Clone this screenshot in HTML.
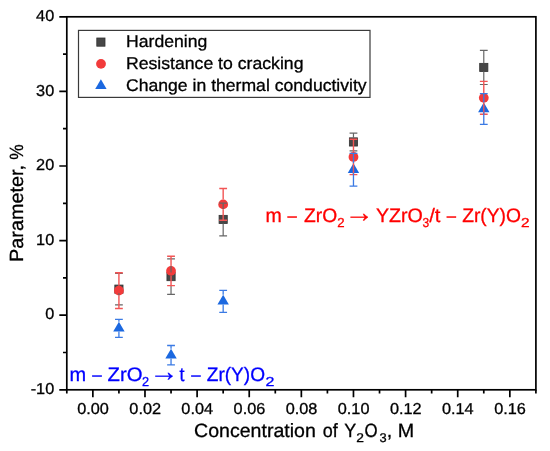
<!DOCTYPE html>
<html><head><meta charset="utf-8"><title>Parameter vs concentration of Y2O3</title><style>html,body{margin:0;padding:0;background:#fff;width:550px;height:451px;overflow:hidden}svg{display:block}text{stroke-width:0.3px}</style></head><body>
<svg width="550" height="451" viewBox="0 0 550 451" font-family="'Liberation Sans', Arial, sans-serif" text-rendering="geometricPrecision">
<rect x="66.8" y="16.8" width="469.10" height="373.00" fill="none" stroke="#000" stroke-width="1.7"/>
<path d="M59.30 389.80H66.80M63.00 352.50H66.80M59.30 315.20H66.80M63.00 277.90H66.80M59.30 240.60H66.80M63.00 203.30H66.80M59.30 166.00H66.80M63.00 128.70H66.80M59.30 91.40H66.80M63.00 54.10H66.80M59.30 16.80H66.80M66.80 389.80V393.60M92.86 389.80V397.30M118.92 389.80V393.60M144.98 389.80V397.30M171.04 389.80V393.60M197.11 389.80V397.30M223.17 389.80V393.60M249.23 389.80V397.30M275.29 389.80V393.60M301.35 389.80V397.30M327.41 389.80V393.60M353.47 389.80V397.30M379.53 389.80V393.60M405.59 389.80V397.30M431.66 389.80V393.60M457.72 389.80V397.30M483.78 389.80V393.60M509.84 389.80V397.30M535.90 389.80V393.60" stroke="#000" stroke-width="1.7" fill="none"/>
<g fill="#000" stroke="#000"><text x="30.71" y="394.05" font-size="15.8" textLength="23.52" lengthAdjust="spacingAndGlyphs">-10</text><text x="45.18" y="319.45" font-size="15.8" textLength="9.05" lengthAdjust="spacingAndGlyphs">0</text><text x="36.13" y="244.85" font-size="15.8" textLength="18.10" lengthAdjust="spacingAndGlyphs">10</text><text x="36.13" y="170.25" font-size="15.8" textLength="18.10" lengthAdjust="spacingAndGlyphs">20</text><text x="36.13" y="95.65" font-size="15.8" textLength="18.10" lengthAdjust="spacingAndGlyphs">30</text><text x="36.13" y="21.05" font-size="15.8" textLength="18.10" lengthAdjust="spacingAndGlyphs">40</text><text x="77.17" y="414.45" font-size="15.8" textLength="31.67" lengthAdjust="spacingAndGlyphs">0.00</text><text x="129.39" y="414.45" font-size="15.8" textLength="31.67" lengthAdjust="spacingAndGlyphs">0.02</text><text x="181.34" y="414.45" font-size="15.8" textLength="31.67" lengthAdjust="spacingAndGlyphs">0.04</text><text x="233.58" y="414.45" font-size="15.8" textLength="31.67" lengthAdjust="spacingAndGlyphs">0.06</text><text x="285.70" y="414.45" font-size="15.8" textLength="31.67" lengthAdjust="spacingAndGlyphs">0.08</text><text x="337.79" y="414.45" font-size="15.8" textLength="31.67" lengthAdjust="spacingAndGlyphs">0.10</text><text x="390.00" y="414.45" font-size="15.8" textLength="31.67" lengthAdjust="spacingAndGlyphs">0.12</text><text x="441.95" y="414.45" font-size="15.8" textLength="31.67" lengthAdjust="spacingAndGlyphs">0.14</text><text x="494.19" y="414.45" font-size="15.8" textLength="31.67" lengthAdjust="spacingAndGlyphs">0.16</text></g>
<g fill="#000" stroke="#000"><text x="194.06" y="436.70" font-size="19.2" textLength="121.76" lengthAdjust="spacingAndGlyphs">Concentration</text><text x="322.69" y="436.70" font-size="19.2" textLength="15.03" lengthAdjust="spacingAndGlyphs">of</text><text x="344.16" y="436.70" font-size="19.2" textLength="11.99" lengthAdjust="spacingAndGlyphs">Y</text><text x="356.35" y="442.00" font-size="12.6" textLength="7.69" lengthAdjust="spacingAndGlyphs">2</text><text x="364.45" y="436.70" font-size="19.2" textLength="13.10" lengthAdjust="spacingAndGlyphs">O</text><text x="379.46" y="442.00" font-size="12.6" textLength="7.16" lengthAdjust="spacingAndGlyphs">3</text><text x="386.78" y="436.70" font-size="19.2" textLength="27.39" lengthAdjust="spacingAndGlyphs">, M</text></g>
<g transform="translate(22.7,0) rotate(-90)" fill="#000" stroke="#000"><text x="-261.96" y="0.00" font-size="19.1" textLength="97.07" lengthAdjust="spacingAndGlyphs">Parameter,</text><text x="-159.77" y="0.00" font-size="19.1" textLength="15.49" lengthAdjust="spacingAndGlyphs">%</text></g>
<rect x="114.82" y="285.05" width="8.2" height="8.2" fill="#474747" stroke="#333" stroke-width="0.8"/>
<rect x="166.94" y="272.50" width="8.2" height="8.2" fill="#474747" stroke="#333" stroke-width="0.8"/>
<rect x="219.07" y="215.35" width="8.2" height="8.2" fill="#474747" stroke="#333" stroke-width="0.8"/>
<rect x="349.37" y="137.85" width="8.2" height="8.2" fill="#474747" stroke="#333" stroke-width="0.8"/>
<rect x="479.68" y="63.35" width="8.2" height="8.2" fill="#474747" stroke="#333" stroke-width="0.8"/>
<circle cx="118.92" cy="290.65" r="4.9" fill="#f23b3b"/>
<circle cx="171.04" cy="270.90" r="4.9" fill="#f23b3b"/>
<circle cx="223.17" cy="204.40" r="4.9" fill="#f23b3b"/>
<circle cx="353.47" cy="156.95" r="4.9" fill="#f23b3b"/>
<circle cx="483.78" cy="97.85" r="4.9" fill="#f23b3b"/>
<path d="M118.92 321.82L124.62 331.62L113.22 331.62Z" fill="#1b68e0"/>
<path d="M171.04 348.67L176.74 358.47L165.34 358.47Z" fill="#1b68e0"/>
<path d="M223.17 294.82L228.87 304.62L217.47 304.62Z" fill="#1b68e0"/>
<path d="M353.47 163.27L359.17 173.07L347.77 173.07Z" fill="#1b68e0"/>
<path d="M483.78 102.42L489.48 112.22L478.08 112.22Z" fill="#1b68e0"/>
<path d="M118.92 293.25V295.55M115.02 273.50H122.82M115.02 304.80H122.82" stroke="#666" stroke-width="1.2" fill="none"/>
<path d="M171.04 266.00V272.50M171.04 285.60V294.40M167.14 258.80H174.94M167.14 294.40H174.94" stroke="#666" stroke-width="1.2" fill="none"/>
<path d="M223.17 203.10V209.30M223.17 223.55V235.80M219.27 203.10H227.07M219.27 235.80H227.07" stroke="#666" stroke-width="1.2" fill="none"/>
<path d="M353.47 133.10V137.85M349.57 133.10H357.37M349.57 150.80H357.37" stroke="#666" stroke-width="1.2" fill="none"/>
<path d="M483.78 50.40V63.35M483.78 71.55V81.40M479.88 50.40H487.68M479.88 84.50H487.68" stroke="#666" stroke-width="1.2" fill="none"/>
<path d="M118.92 272.80V285.75M118.92 295.55V308.50M115.02 272.80H122.82M115.02 308.50H122.82" stroke="#f25555" stroke-width="1.4" fill="none"/>
<path d="M171.04 256.20V266.00M171.04 275.80V285.60M167.14 256.20H174.94M167.14 285.60H174.94" stroke="#f25555" stroke-width="1.4" fill="none"/>
<path d="M223.17 188.50V199.50M223.17 209.30V220.30M219.27 188.50H227.07M219.27 220.30H227.07" stroke="#f25555" stroke-width="1.4" fill="none"/>
<path d="M353.47 139.30V152.05M353.47 161.85V174.60M349.57 139.30H357.37M349.57 174.60H357.37" stroke="#f25555" stroke-width="1.4" fill="none"/>
<path d="M483.78 81.40V92.95M483.78 102.75V114.30M479.88 81.40H487.68M479.88 114.30H487.68" stroke="#f25555" stroke-width="1.4" fill="none"/>
<path d="M118.92 319.30V321.82M118.92 331.62V337.40M115.02 319.30H122.82M115.02 337.40H122.82" stroke="#3a7ae4" stroke-width="1.3" fill="none"/>
<path d="M171.04 345.50V348.67M171.04 358.47V364.90M167.14 345.50H174.94M167.14 364.90H174.94" stroke="#3a7ae4" stroke-width="1.3" fill="none"/>
<path d="M223.17 290.30V294.82M223.17 304.62V312.40M219.27 290.30H227.07M219.27 312.40H227.07" stroke="#3a7ae4" stroke-width="1.3" fill="none"/>
<path d="M353.47 153.40V163.27M353.47 173.07V186.20M349.57 153.40H357.37M349.57 186.20H357.37" stroke="#3a7ae4" stroke-width="1.3" fill="none"/>
<path d="M483.78 93.60V102.42M483.78 112.22V124.30M479.88 93.60H487.68M479.88 124.30H487.68" stroke="#3a7ae4" stroke-width="1.3" fill="none"/>
<rect x="78.5" y="30.4" width="291.5" height="67" fill="#fff" stroke="#3a3a3a" stroke-width="1.2"/>
<rect x="96.80" y="38.00" width="8.2" height="8.2" fill="#474747" stroke="#333" stroke-width="0.8"/>
<circle cx="101" cy="63.85" r="4.9" fill="#f23b3b"/>
<path d="M100.90 79.30L106.60 89.10L95.20 89.10Z" fill="#1b68e0"/>
<g fill="#000" stroke="#000"><text x="126.11" y="47.45" font-size="17.0" textLength="81.18" lengthAdjust="spacingAndGlyphs">Hardening</text><text x="125.90" y="69.10" font-size="17.0" textLength="177.59" lengthAdjust="spacingAndGlyphs">Resistance to cracking</text><text x="126.01" y="90.50" font-size="17.0" textLength="240.68" lengthAdjust="spacingAndGlyphs">Change in thermal conductivity</text></g>
<g fill="#ff0000" stroke="#ff0000"><text x="265.45" y="221.70" font-size="19.5" textLength="16.29" lengthAdjust="spacingAndGlyphs">m</text><text x="287.55" y="221.70" font-size="19.5" textLength="9.31" lengthAdjust="spacingAndGlyphs">–</text><text x="304.04" y="221.70" font-size="19.5" textLength="33.13" lengthAdjust="spacingAndGlyphs">ZrO</text><text x="337.19" y="226.70" font-size="13.0" textLength="7.32" lengthAdjust="spacingAndGlyphs">2</text><text x="344.72" y="221.60" font-size="28.7" textLength="29.06" lengthAdjust="spacingAndGlyphs">→</text><text x="375.92" y="221.70" font-size="19.5" textLength="46.87" lengthAdjust="spacingAndGlyphs">YZrO</text><text x="422.49" y="226.70" font-size="13.0" textLength="6.69" lengthAdjust="spacingAndGlyphs">3</text><text x="429.15" y="221.70" font-size="19.5" textLength="11.25" lengthAdjust="spacingAndGlyphs">/t</text><text x="446.85" y="221.70" font-size="19.5" textLength="9.31" lengthAdjust="spacingAndGlyphs">–</text><text x="462.14" y="221.70" font-size="19.5" textLength="58.83" lengthAdjust="spacingAndGlyphs">Zr(Y)O</text><text x="520.98" y="226.70" font-size="13.0" textLength="8.55" lengthAdjust="spacingAndGlyphs">2</text></g>
<g fill="#0000ff" stroke="#0000ff"><text x="69.52" y="380.60" font-size="19.5" textLength="16.64" lengthAdjust="spacingAndGlyphs">m</text><text x="92.25" y="380.60" font-size="19.5" textLength="9.51" lengthAdjust="spacingAndGlyphs">–</text><text x="107.61" y="380.60" font-size="19.5" textLength="34.91" lengthAdjust="spacingAndGlyphs">ZrO</text><text x="142.11" y="385.60" font-size="13.0" textLength="7.08" lengthAdjust="spacingAndGlyphs">2</text><text x="149.42" y="380.50" font-size="28.7" textLength="29.06" lengthAdjust="spacingAndGlyphs">→</text><text x="179.58" y="380.60" font-size="19.5" textLength="5.00" lengthAdjust="spacingAndGlyphs">t</text><text x="191.25" y="380.60" font-size="19.5" textLength="9.41" lengthAdjust="spacingAndGlyphs">–</text><text x="206.74" y="380.60" font-size="19.5" textLength="58.32" lengthAdjust="spacingAndGlyphs">Zr(Y)O</text><text x="265.64" y="385.60" font-size="13.0" textLength="8.91" lengthAdjust="spacingAndGlyphs">2</text></g>
</svg>
</body></html>
